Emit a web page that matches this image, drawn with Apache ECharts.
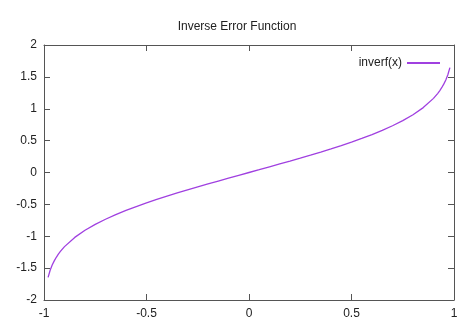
<!DOCTYPE html>
<html>
<head>
<meta charset="utf-8">
<script src="https://cdn.jsdelivr.net/npm/echarts@6/dist/echarts.min.js"></script>
<style>html,body{margin:0;padding:0;background:#fff}#c{width:474px;height:331px}</style>
</head>
<body>
<div id="c"></div>
<script>
const titleText = 'Inverse Error Function';
const seriesName = 'inverf(x)';
const xValues = [-0.98,-0.97,-0.96,-0.95,-0.94,-0.93,-0.92,-0.90,-0.85,-0.80,-0.75,-0.70,-0.65,-0.60,-0.55,-0.50,-0.45,-0.40,-0.35,-0.30,-0.25,-0.20,-0.15,-0.10,-0.05,0,
  0.05,0.10,0.15,0.20,0.25,0.30,0.35,0.40,0.45,0.50,0.55,0.60,0.65,0.70,0.75,0.80,0.85,0.90,0.92,0.93,0.94,0.95,0.96,0.97,0.98];
const yValues = [-1.645,-1.534,-1.452,-1.386,-1.330,-1.281,-1.238,-1.163,-1.018,-0.906,-0.813,-0.733,-0.661,-0.595,-0.534,-0.477,-0.423,-0.371,-0.321,-0.272,-0.225,-0.179,-0.134,-0.089,-0.044,0,
  0.044,0.089,0.134,0.179,0.225,0.272,0.321,0.371,0.423,0.477,0.534,0.595,0.661,0.733,0.813,0.906,1.018,1.163,1.238,1.281,1.330,1.386,1.452,1.534,1.645];

const chart = echarts.init(document.getElementById('c'), null, {renderer:'canvas'});
const axisColor = '#555';
const font = 'Liberation Sans, Arial, sans-serif';
const lineColor = '#a040e0';
const baseAxis = {
  type:'value', splitLine:{show:false},
  axisLine:{show:true, onZero:false, lineStyle:{color:axisColor, width:1}},
  axisTick:{show:true, inside:true, length:6, lineStyle:{color:axisColor}},
};
chart.setOption({
  animation:false,
  backgroundColor:'#fff',
  title:{text:titleText, left:'center', top:16, textStyle:{fontFamily:font, fontSize:12, fontWeight:'normal', color:'#222'}},
  legend:{show:true, orient:'horizontal', right:29, top:52, align:'right', itemWidth:33, itemHeight:2, itemGap:6,
    icon:'rect',
    itemStyle:{color:lineColor},
    textStyle:{fontFamily:font, fontSize:12, color:'#222'}},
  grid:{left:44, right:20, top:45, bottom:31, containLabel:false},
  xAxis:[
    Object.assign({}, baseAxis, {min:-1, max:1, interval:0.5, position:'bottom',
      axisLabel:{margin:8, fontFamily:font, fontSize:12, color:'#222'}}),
    Object.assign({}, baseAxis, {min:-1, max:1, interval:0.5, position:'top', axisLabel:{show:false}})
  ],
  yAxis:[
    Object.assign({}, baseAxis, {min:-2, max:2, interval:0.5, position:'left',
      axisLabel:{margin:7, fontFamily:font, fontSize:12, color:'#222'}}),
    Object.assign({}, baseAxis, {min:-2, max:2, interval:0.5, position:'right', axisLabel:{show:false}})
  ],
  series:[{
    name:seriesName, type:'line', xAxisIndex:0, yAxisIndex:0,
    data:xValues.map((x,i)=>[x,yValues[i]]),
    showSymbol:false, smooth:false,
    lineStyle:{color:lineColor, width:1.3},
    itemStyle:{color:lineColor}
  }]
});
</script>
</body>
</html>
